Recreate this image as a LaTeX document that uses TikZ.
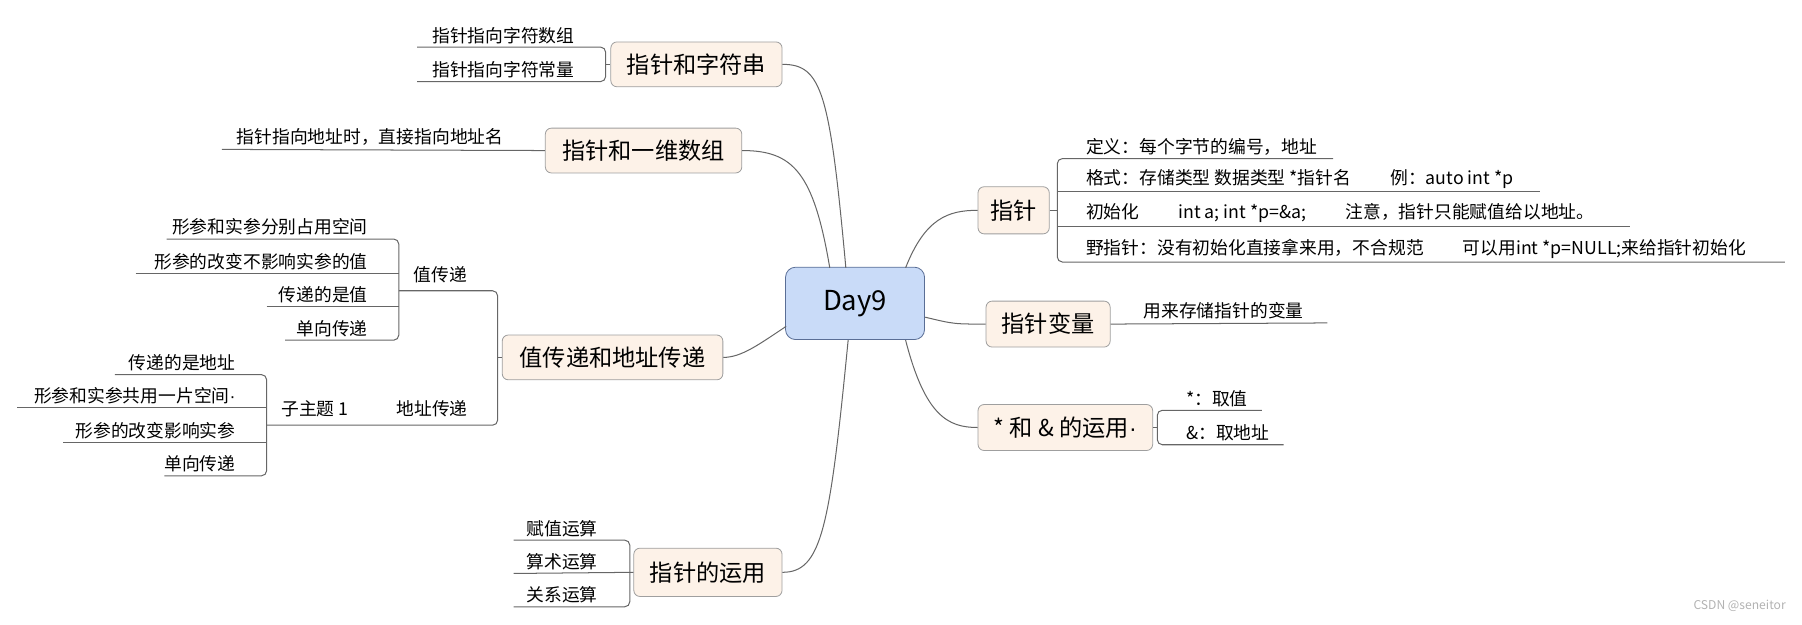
\documentclass[tikz,border=0pt]{standalone}
\usepackage{fontspec}
\setmainfont{Noto Sans CJK SC}
\newfontfamily\dotfont{Liberation Sans}
\definecolor{rootfill}{RGB}{201,219,248}
\definecolor{rootdraw}{RGB}{90,110,150}
\definecolor{topfill}{RGB}{253,242,232}
\begin{document}
\begin{tikzpicture}[x=0.02cm,y=-0.02cm,
  topic/.style={draw=gray!75,fill=topfill,rounded corners=3pt,font=\fontsize{11.5}{13}\selectfont,inner sep=0pt,minimum height=0.78cm},
  root/.style={draw=rootdraw,fill=rootfill,rounded corners=5pt,font=\fontsize{13.6}{15}\selectfont,minimum width=2.42cm,minimum height=1.26cm},
  sub/.style={font=\fontsize{8.8}{10}\selectfont,inner sep=1pt},
  ln/.style={draw=gray!80!black,line width=0.5pt},
  conn/.style={draw=gray!80!black,line width=0.5pt},
  fork/.style={draw=gray!80!black,line width=0.5pt,rounded corners=2.5pt}]
\useasboundingbox (0,0) rectangle (1568,543);
% root and topics
\node[root] (day) at (744,264) {Day9};
\node[topic,minimum width=2.98cm] (ss) at (606,56) {指针和字符串};
\node[topic,minimum width=3.42cm] (arr) at (560,131) {指针和一维数组};
\node[topic,minimum width=3.84cm] (val) at (533,311) {值传递和地址传递};
\node[topic,minimum width=2.58cm,minimum height=0.84cm] (use) at (616,498) {指针的运用};
\node[topic,minimum width=1.24cm,minimum height=0.82cm] (ptr) at (882,183) {指针};
\node[topic,minimum width=2.16cm,minimum height=0.8cm] (pv) at (912,282) {指针变量};
\node[topic,minimum width=3.04cm,minimum height=0.8cm] (amp) at (927,372) {* 和 \& 的运用{\dotfont·}};
% connectors from root
\draw[conn] (736,233) .. controls (722,80) and (715,56) .. (ss.east);
\draw[conn] (722,233) .. controls (708,150) and (690,131) .. (arr.east);
\draw[conn] (684,284) .. controls (660,300) and (645,311) .. (val.east);
\draw[conn] (738,296) .. controls (722,460) and (715,498) .. (use.east);
\draw[conn] (788,233) .. controls (805,190) and (825,183) .. (ptr.west);
\draw[conn] (805,276) .. controls (830,282) .. (pv.west);
\draw[conn] (788,296) .. controls (805,362) and (825,372) .. (amp.west);
% 指针和字符串
\node[sub,anchor=south east] (s1) at (502,40) {指针指向字符数组};
\node[sub,anchor=south east] (s2) at (502,70) {指针指向字符常量};
\draw[fork] (363,41) -- (527,41) -- (527,71) -- (363,71);
\draw[ln] (527,56) -- (ss.west);
% 指针和一维数组
\node[sub,anchor=south] (a1) at (322,129) {指针指向地址时，直接指向地址名};
\draw[ln] (193,130) -- (arr.west);
% 值传递
\node[sub,anchor=south east] (v1) at (322,207) {形参和实参分别占用空间};
\node[sub,anchor=south east] (v2) at (322,237) {形参的改变不影响实参的值};
\node[sub,anchor=south east] (v3) at (322,266) {传递的是值};
\node[sub,anchor=south east] (v4) at (322,295) {单向传递};
\draw[fork] (145,208) -- (347,208) -- (347,296) -- (248,296);
\draw[ln] (118,238) -- (347,238);
\draw[ln] (232,267) -- (347,267);
\node[sub,anchor=south] (vz) at (383,248) {值传递};
\node[sub,anchor=south] (vd) at (376,365) {地址传递};
\node[sub,anchor=south] (vs) at (274,365) {子主题 1};
\draw[fork] (347,253) -- (433,253) -- (433,370) -- (232,370);
\draw[ln] (433,311) -- (val.west);
\node[sub,anchor=south east] (d1) at (207,325) {传递的是地址};
\node[sub,anchor=south east] (d2) at (207,354) {形参和实参共用一片空间{\dotfont·}};
\node[sub,anchor=south east] (d3) at (207,384) {形参的改变影响实参};
\node[sub,anchor=south east] (d4) at (207,413) {单向传递};
\draw[fork] (100,326) -- (232,326) -- (232,414) -- (143,414);
\draw[ln] (15,355) -- (232,355);
\draw[ln] (55,385) -- (232,385);
% 指针的运用
\node[sub,anchor=south west] (u1) at (456,469) {赋值运算};
\node[sub,anchor=south west] (u2) at (456,498) {算术运算};
\node[sub,anchor=south west] (u3) at (456,527) {关系运算};
\draw[fork] (447,470) -- (548,470) -- (548,528) -- (447,528);
\draw[ln] (447,499) -- (use.west);
% 指针
\node[sub,anchor=south west] (p1) at (943,137) {定义：每个字节的编号，地址};
\node[sub,anchor=south west] (p2) at (943,166) {格式：存储类型 数据类型 *指针名\hspace{2.2em}例：auto int *p};
\node[sub,anchor=south west] (p3) at (943,196) {初始化\hspace{2.2em}int a; int *p=\&a;\hspace{2.2em}注意，指针只能赋值给以地址。};
\node[sub,anchor=south west] (p4) at (943,227) {野指针：没有初始化直接拿来用，不合规范\hspace{2.2em}可以用int *p=NULL;来给指针初始化};
\draw[fork] (1160,138) -- (920,138) -- (920,228) -- (1553,228);
\draw[ln] (920,167) -- (1340,167);
\draw[ln] (920,197) -- (1418,197);
\draw[ln] (ptr.east) -- (920,183);
% 指针变量
\node[sub,anchor=south west] (pv1) at (993,280) {用来存储指针的变量};
\draw[ln] (pv.east) -- (1155,281);
% * 和 &
\node[sub,anchor=south west] (m1) at (1030,356) {*：取值};
\node[sub,anchor=south west] (m2) at (1030,386) {\&：取地址};
\draw[fork] (1098,357) -- (1007,357) -- (1007,387) -- (1117,387);
\draw[ln] (amp.east) -- (1007,372);
\node[font=\fontsize{6}{7}\selectfont,text=gray!60,anchor=south east] (wm) at (1560,538) {CSDN @seneitor};
\end{tikzpicture}
\end{document}
